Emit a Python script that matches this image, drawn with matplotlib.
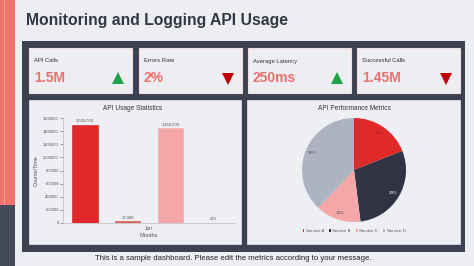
import matplotlib
matplotlib.use('Agg')
import matplotlib.pyplot as plt
from matplotlib.patches import Rectangle

plt.rcParams['font.family'] = ['Liberation Sans', 'DejaVu Sans']

# KPI cards
kpi_labels = ['API Calls', 'Errors Rate', 'Average Latency', 'Successful Calls']
kpi_values = ['1.5M', '2%', '250ms', '1.45M']
kpi_trend = ['up', 'down', 'up', 'down']

# bar chart
bar_values = [1500000, 30000, 1450000, 250]
bar_text = ['1,500,000', '30,000', '1,450,000', '250']
bar_month = 'Jan'
y_ticks = [0, 200000, 400000, 600000, 800000, 1000000, 1200000, 1400000, 1600000]

# pie chart
services = ['Service A', 'Service B', 'Service C', 'Service D']
shares = [19, 29, 14, 38]

W, H = 474, 266
BG = '#EDEEF2'
DARK = '#3D4252'

fig = plt.figure(figsize=(W / 100, H / 100), dpi=100)
fig.patch.set_facecolor(BG)


def px_axes(x0, y0, x1, y1):
    return fig.add_axes([x0 / W, 1 - y1 / H, (x1 - x0) / W, (y1 - y0) / H])


# background layer in pixel coordinates
bg = px_axes(0, 0, W, H)
bg.set_xlim(0, W)
bg.set_ylim(H, 0)
bg.axis('off')

bg.add_patch(Rectangle((0, 0), 15, 205, color='#F1736D', lw=0))
bg.add_patch(Rectangle((4, 0), 1, 205, color='#F6A19B', lw=0))
bg.add_patch(Rectangle((0, 205), 15, 61, color='#454A5A', lw=0))
bg.add_patch(Rectangle((22, 41), 443, 211, color=DARK, lw=0))

bg.text(26, 20, 'Monitoring and Logging API Usage', fontsize=11.3, fontweight='bold',
        color='#333745', va='center', ha='left')

card_x = [29, 139, 248, 357]
for i, cx in enumerate(card_x):
    bg.add_patch(Rectangle((cx, 48), 103, 45, facecolor='#EEEEF2', edgecolor='#F2DDE1', lw=0.8))
    bg.text(cx + 5, 61, kpi_labels[i], fontsize=4.2, color='#333333', va='center')
    bg.text(cx + 5, 78.5, kpi_values[i], fontsize=10, fontweight='bold', color='#E8716F', va='center')
    if kpi_trend[i] == 'up':
        bg.plot(cx + 89, 78, marker='^', ms=8.5, color='#1FA34A', mew=0)
    else:
        bg.plot(cx + 89, 79, marker='v', ms=8.5, color='#C00000', mew=0)

bg.add_patch(Rectangle((29, 100), 212, 144, facecolor='#EEEFF3', edgecolor='#E4DCEB', lw=0.6))
bg.add_patch(Rectangle((247, 100), 213, 144, facecolor='#EEEFF3', edgecolor='#E4DCEB', lw=0.6))

bg.text(133, 108, 'API Usage Statistics', fontsize=4.7, color='#333333', ha='center', va='center')
bg.text(354, 108, 'API Performance Metrics', fontsize=4.7, color='#333333', ha='center', va='center')

bg.text(233, 258, 'This is a sample dashboard. Please edit the metrics according to your message.',
        fontsize=5.6, color='#222222', ha='center', va='center')

# bar chart
ax = px_axes(63, 118, 235, 223)
ax.set_facecolor('none')
bar_colors = ['#E2292A', '#E0605A', '#F4A7A6', '#AEB3C2']
pos = list(range(len(bar_values)))
ax.bar(pos, bar_values, width=0.6, color=bar_colors, edgecolor=['#C81E1E', '#D04A45', '#F4A7A6', '#AEB3C2'], lw=0.4)
for p, v, t in zip(pos, bar_values, bar_text):
    ax.text(p, v + 25000, t, fontsize=3, color='#555555', ha='center', va='bottom')
ax.set_xlim(-0.52, 3.52)
ax.set_ylim(0, 1600000)
ax.set_yticks(y_ticks)
ax.set_yticklabels([str(t) for t in y_ticks])
ax.set_xticks([1.5])
ax.set_xticklabels([bar_month])
ax.tick_params(axis='y', labelsize=3, colors='#555555', length=2, width=0.4, pad=1)
ax.tick_params(axis='x', labelsize=3.5, colors='#555555', length=0, pad=2)
for s in ['top', 'right']:
    ax.spines[s].set_visible(False)
for s in ['left', 'bottom']:
    ax.spines[s].set_color('#BBBBBB')
    ax.spines[s].set_linewidth(0.5)
ax.set_xlabel('Months', fontsize=4, color='#555555', labelpad=1.5)
ax.set_ylabel('Counts/Time', fontsize=4, color='#555555', labelpad=3)

# pie chart
pax = px_axes(302, 118, 406, 222)
pie_colors = ['#E2292A', '#2F3343', '#F4A7A6', '#AEB3C2']
wedges, texts, autotexts = pax.pie(shares, colors=pie_colors, startangle=90, counterclock=False,
                                   autopct='%d%%', pctdistance=0.87,
                                   wedgeprops=dict(linewidth=0),
                                   textprops=dict(fontsize=3.2))
for t, c in zip(autotexts, ['#9A1C1C', 'white', '#555555', '#555555']):
    t.set_color(c)
pax.set_xlim(-1, 1)
pax.set_ylim(-1, 1)
pax.set_aspect('equal')
pax.legend(wedges, services, loc='upper center', bbox_to_anchor=(0.5, -0.03), ncol=4,
           frameon=False, fontsize=3.2, handlelength=0.4, handleheight=0.4,
           handletextpad=0.3, columnspacing=1.2, labelcolor='#555555')

fig.savefig('out.png', dpi=100, facecolor=BG)
